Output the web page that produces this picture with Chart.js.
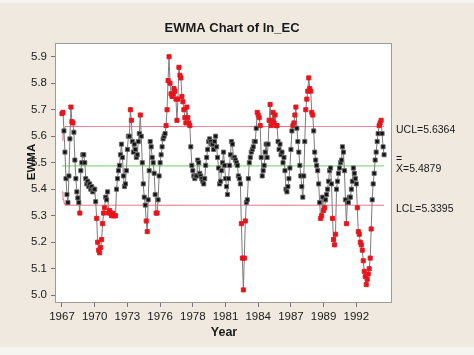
<!DOCTYPE html>
<html>
<head>
<meta charset="utf-8">
<script src="https://cdn.jsdelivr.net/npm/chart.js@4/dist/chart.umd.min.js"></script>
<style>
  html, body { margin: 0; padding: 0; background: #f6f4f0; }
  canvas { display: block; }
</style>
</head>
<body>
<canvas id="c" width="474" height="355"></canvas>
<script>
// ---- data ----
const yearLabels = ['1967','1970','1973','1976','1978','1981','1984','1987','1989','1992'];
const yTicks = [5.0, 5.1, 5.2, 5.3, 5.4, 5.5, 5.6, 5.7, 5.8, 5.9];
const UCL = 5.6364;
const CENTER = 5.4879;
const LCL = 5.3395;
const uclStart = [5.585, 5.615, 5.628];
const lclStart = [5.390, 5.360, 5.347];

const ewma1 = [5.685,5.69,5.62,5.54,5.44,5.38,5.35,5.45,5.59,5.71,
  5.655,5.65,5.615,5.51,5.44,5.39,5.367,5.35,5.31,5.47,
  5.50,5.53,5.53,5.50,5.44,5.42,5.43,5.41,5.42,5.40,
  5.41,5.39,5.40,5.40,5.353,5.29,5.20,5.17,5.16,5.18,
  5.21,5.27,5.31,5.33,5.37,5.36,5.39,5.31,5.32,5.31,
  5.30,5.31,5.30,5.30,5.30,5.40,5.44,5.47,5.49,5.53,
  5.57,5.52,5.45,5.41,5.42,5.47,5.55,5.60,5.60,5.70,
  5.66,5.58,5.54,5.57,5.55,5.52,5.53,5.58,5.61,5.68,
  5.60,5.50,5.42,5.37,5.34,5.28,5.24,5.36,5.47,5.58,
  5.56,5.52,5.50,5.46,5.38,5.31,5.31,5.36,5.45,5.50,
  5.53,5.56,5.59,5.60,5.61,5.64,5.70,5.81,5.90,5.80,
  5.76,5.75,5.76,5.78,5.77,5.74,5.66,5.74,5.86,5.83,
  5.82,5.75,5.73,5.70,5.67,5.65,5.71,5.67,5.65,5.64,
  5.56,5.49];
const ewma2 = [5.47,5.45,5.44,5.45,5.45,5.51,5.50,5.46,
  5.45,5.44,5.43,5.42,5.44,5.49,5.52,5.55,5.58,5.59,
  5.58,5.57,5.57,5.55,5.58,5.60,5.56,5.52,5.48,5.42,
  5.43,5.47,5.50,5.54,5.49,5.44,5.41,5.38,5.44,5.49,
  5.53,5.58,5.57,5.52,5.52,5.51,5.50,5.49,5.45,5.44,
  5.42,5.27,5.14,5.02,5.14,5.28,5.35,5.36,5.44,5.50,
  5.52,5.54,5.55,5.56,5.58];
const ewma3 = [5.58,5.63,5.69,5.68,5.67,5.64,5.52,5.45,5.47,5.49,
  5.54,5.57,5.52,5.57,5.66,5.72,5.64,5.66,5.69,5.65,
  5.68,5.64,5.64,5.58,5.55,5.57,5.53,5.54,5.50,5.52,
  5.47,5.40,5.39,5.41,5.44,5.48,5.55,5.62,5.64,5.65,
  5.68,5.71,5.63,5.58,5.54,5.49,5.45,5.41,5.37,5.45,
  5.58,5.70,5.74,5.77,5.82,5.78,5.77,5.69,5.68,5.62,
  5.54,5.51,5.49,5.47,5.42,5.35,5.29];
const ewma4 = [5.30,5.37,5.32,5.33,5.36,5.38,5.40,5.43,5.47,5.48,
  5.42,5.29,5.21,5.19,5.23,5.40,5.43,5.46,5.48,5.50,
  5.51,5.56,5.54,5.47,5.36,5.27,5.35,5.35,5.37,5.37,
  5.40,5.43,5.48,5.46,5.44,5.42,5.33,5.24,5.23,5.20,
  5.19,5.17,5.13,5.09,5.07,5.04,5.06,5.08,5.10,5.14,
  5.25,5.36,5.42,5.46,5.51,5.54,5.58,5.61,5.64,5.65,
  5.66,5.61,5.56,5.53];

const ewma = ewma1.concat(ewma2, ewma3, ewma4);
const TICK_EVERY = 33; // observations between labelled ticks

// ---- build datasets ----
const pts = ewma.map((v, i) => ({ x: i, y: v }));
const out = ewma.map(v => v > UCL || v < LCL);
const last = ewma.length - 1;
const uclPts = ewma.map((v, i) => ({ x: i, y: i < uclStart.length ? uclStart[i] : UCL }));
const lclPts = ewma.map((v, i) => ({ x: i, y: i < lclStart.length ? lclStart[i] : LCL }));
const clPts = [{ x: 0, y: CENTER }, { x: last, y: CENTER }];

const FONT = '"Liberation Sans", Arial, sans-serif';

const decor = {
  id: 'decor',
  beforeDraw(chart) {
    const { ctx, chartArea: a, width, height } = chart;
    ctx.save();
    ctx.fillStyle = '#f6f4f0';
    ctx.fillRect(0, 0, width, height);
    ctx.fillStyle = '#efe9df';
    ctx.fillRect(0, 3, width, 344);
    ctx.fillStyle = '#ffffff';
    ctx.fillRect(a.left, a.top, a.right - a.left, a.bottom - a.top);
    ctx.restore();
  },
  afterDraw(chart) {
    const { ctx, chartArea: a, scales } = chart;
    ctx.save();
    ctx.strokeStyle = '#9c9c9c';
    ctx.lineWidth = 1;
    ctx.strokeRect(a.left + 0.5, a.top + 0.5, a.right - a.left - 1, a.bottom - a.top - 1);
    ctx.fillStyle = '#1a1a1a';
    ctx.textBaseline = 'middle';
    // title
    ctx.font = 'bold 13px ' + FONT;
    ctx.textAlign = 'center';
    ctx.fillText('EWMA Chart of ln_EC', 232, 28);
    // x title
    ctx.font = 'bold 12.5px ' + FONT;
    ctx.fillText('Year', 224, 333);
    // y title
    ctx.save();
    ctx.translate(32, 162);
    ctx.rotate(-Math.PI / 2);
    ctx.font = 'bold 11.5px ' + FONT;
    ctx.fillText('EWMA', 0, 0);
    ctx.restore();
    // limit labels
    const y = scales.y;
    ctx.font = '10.5px ' + FONT;
    ctx.textAlign = 'left';
    const lx = 396;
    ctx.fillText('UCL=' + UCL.toFixed(4), lx, y.getPixelForValue(UCL) + 3.5);
    ctx.fillText('X=' + CENTER.toFixed(4), lx, y.getPixelForValue(CENTER) + 3.5);
    ctx.fillText('=', lx, y.getPixelForValue(CENTER) - 7);
    ctx.fillText('LCL=' + LCL.toFixed(4), lx, y.getPixelForValue(LCL) + 3.5);
    ctx.restore();
  }
};

new Chart(document.getElementById('c'), {
  type: 'scatter',
  data: {
    datasets: [
      {
        data: pts,
        showLine: true,
        borderColor: '#7c7c7c',
        borderWidth: 1,
        pointStyle: 'rect',
        pointRadius: 2.9,
        pointBorderWidth: 0.9,
        pointBackgroundColor: out.map(o => o ? '#e8141c' : '#121212'),
        pointBorderColor: out.map(o => o ? '#e8141c' : '#6a6a6a'),
        clip: false
      },
      {
        data: uclPts, showLine: true, stepped: 'before', pointRadius: 0,
        borderColor: '#e46a7e', borderWidth: 1
      },
      {
        data: clPts, showLine: true, pointRadius: 0,
        borderColor: '#6fcf6f', borderWidth: 1
      },
      {
        data: lclPts, showLine: true, stepped: 'before', pointRadius: 0,
        borderColor: '#e46a7e', borderWidth: 1
      }
    ]
  },
  options: {
    responsive: false,
    animation: false,
    devicePixelRatio: 1,
    layout: { padding: { top: 43, right: 82, left: 0, bottom: 0 } },
    plugins: { legend: { display: false }, title: { display: false }, tooltip: { enabled: false } },
    scales: {
      x: {
        type: 'linear',
        min: -7.06,
        max: 333,
        afterFit(s) { s.height = 52; },
        afterBuildTicks(s) {
          s.ticks = yearLabels.map((l, i) => ({ value: i * TICK_EVERY }));
        },
        grid: { display: true, drawOnChartArea: false, drawTicks: true, tickLength: 4, color: '#777' },
        border: { display: false },
        ticks: {
          padding: 3,
          maxRotation: 0,
          autoSkip: false,
          color: '#1a1a1a',
          font: { family: FONT, size: 11.5 },
          callback: (v) => yearLabels[Math.round(v / TICK_EVERY)]
        }
      },
      y: {
        min: 4.9706,
        max: 5.9517,
        afterFit(s) { s.width = 55; },
        afterBuildTicks(s) {
          s.ticks = yTicks.map(v => ({ value: v }));
        },
        grid: { display: true, drawOnChartArea: false, drawTicks: true, tickLength: 4, color: '#777' },
        border: { display: false },
        ticks: {
          padding: 4,
          color: '#1a1a1a',
          font: { family: FONT, size: 11.5 },
          callback: (v) => Number(v).toFixed(1)
        }
      }
    }
  },
  plugins: [decor]
});
</script>
</body>
</html>
